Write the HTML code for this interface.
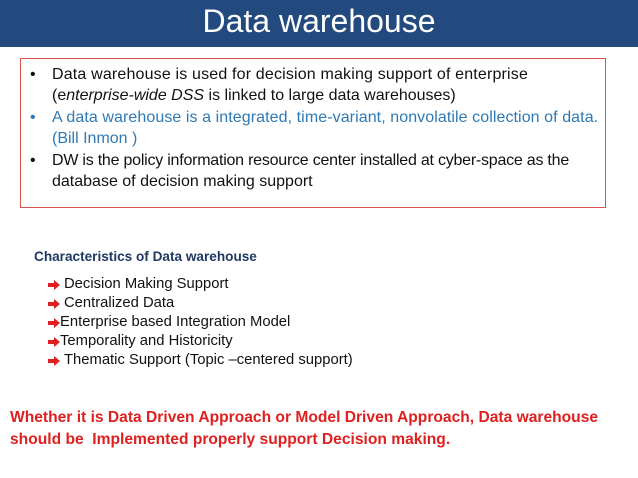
<!DOCTYPE html>
<html><head><style>
body{margin:0;width:638px;height:478px;background:#fff;position:relative;overflow:hidden;font-family:"Liberation Sans",sans-serif}
.hd{position:absolute;left:0;top:0;width:638px;height:47px;background:#234a7e;color:#fff;font-size:32px;text-align:center;line-height:42px}
.bx{position:absolute;left:20px;top:58px;width:584px;height:148px;border:1.5px solid #d9534f}
.t{position:absolute;white-space:nowrap}
.b{font-size:16px;color:#111}
.blue{color:#2e79b5}
.li{font-size:14.8px;color:#111}
.ar{position:absolute;width:12px;height:10px}
.red{font-size:15.6px;color:#e02020;font-weight:bold}
</style></head><body>
<div class="hd">Data warehouse</div>
<div class="bx"></div>
<div class="t b" style="left:30px;top:66px">•</div>
<div class="t b" style="left:52px;top:66px;letter-spacing:0.17px">Data warehouse is used for decision making support of enterprise</div>
<div class="t b" style="left:52px;top:87px">(e<i>nterprise-wide DSS</i> is linked to large data warehouses)</div>
<div class="t b blue" style="left:30px;top:109px">•</div>
<div class="t b blue" style="left:52px;top:109px;letter-spacing:0.08px">A data warehouse is a integrated, time-variant, nonvolatile collection of data.</div>
<div class="t b blue" style="left:52px;top:130px">(Bill Inmon )</div>
<div class="t b" style="left:30px;top:152px">•</div>
<div class="t b" style="left:52px;top:152px;letter-spacing:-0.23px">DW is the policy information resource center installed at cyber-space as the</div>
<div class="t b" style="left:52px;top:173px">database of decision making support</div>
<div class="t" style="left:34px;top:249px;font-size:13.6px;font-weight:bold;color:#1f3864">Characteristics of Data warehouse</div>
<svg class="ar" style="left:48px;top:280px" viewBox="0 0 12 10"><path d="M0 3h6V0l6 5-6 5V7H0z" fill="#e02020"/></svg>
<div class="t li" style="left:64px;top:276px">Decision Making Support</div>
<svg class="ar" style="left:48px;top:299px" viewBox="0 0 12 10"><path d="M0 3h6V0l6 5-6 5V7H0z" fill="#e02020"/></svg>
<div class="t li" style="left:64px;top:295px">Centralized Data</div>
<svg class="ar" style="left:48px;top:318px" viewBox="0 0 12 10"><path d="M0 3h6V0l6 5-6 5V7H0z" fill="#e02020"/></svg>
<div class="t li" style="left:60px;top:314px">Enterprise based Integration Model</div>
<svg class="ar" style="left:48px;top:337px" viewBox="0 0 12 10"><path d="M0 3h6V0l6 5-6 5V7H0z" fill="#e02020"/></svg>
<div class="t li" style="left:60px;top:333px">Temporality and Historicity</div>
<svg class="ar" style="left:48px;top:356px" viewBox="0 0 12 10"><path d="M0 3h6V0l6 5-6 5V7H0z" fill="#e02020"/></svg>
<div class="t li" style="left:64px;top:352px">Thematic Support (Topic –centered support)</div>
<div class="t red" style="left:10px;top:409px">Whether it is Data Driven Approach or Model Driven Approach, Data warehouse</div>
<div class="t red" style="left:10px;top:431px">should be&nbsp; Implemented properly support Decision making.</div>
</body></html>
